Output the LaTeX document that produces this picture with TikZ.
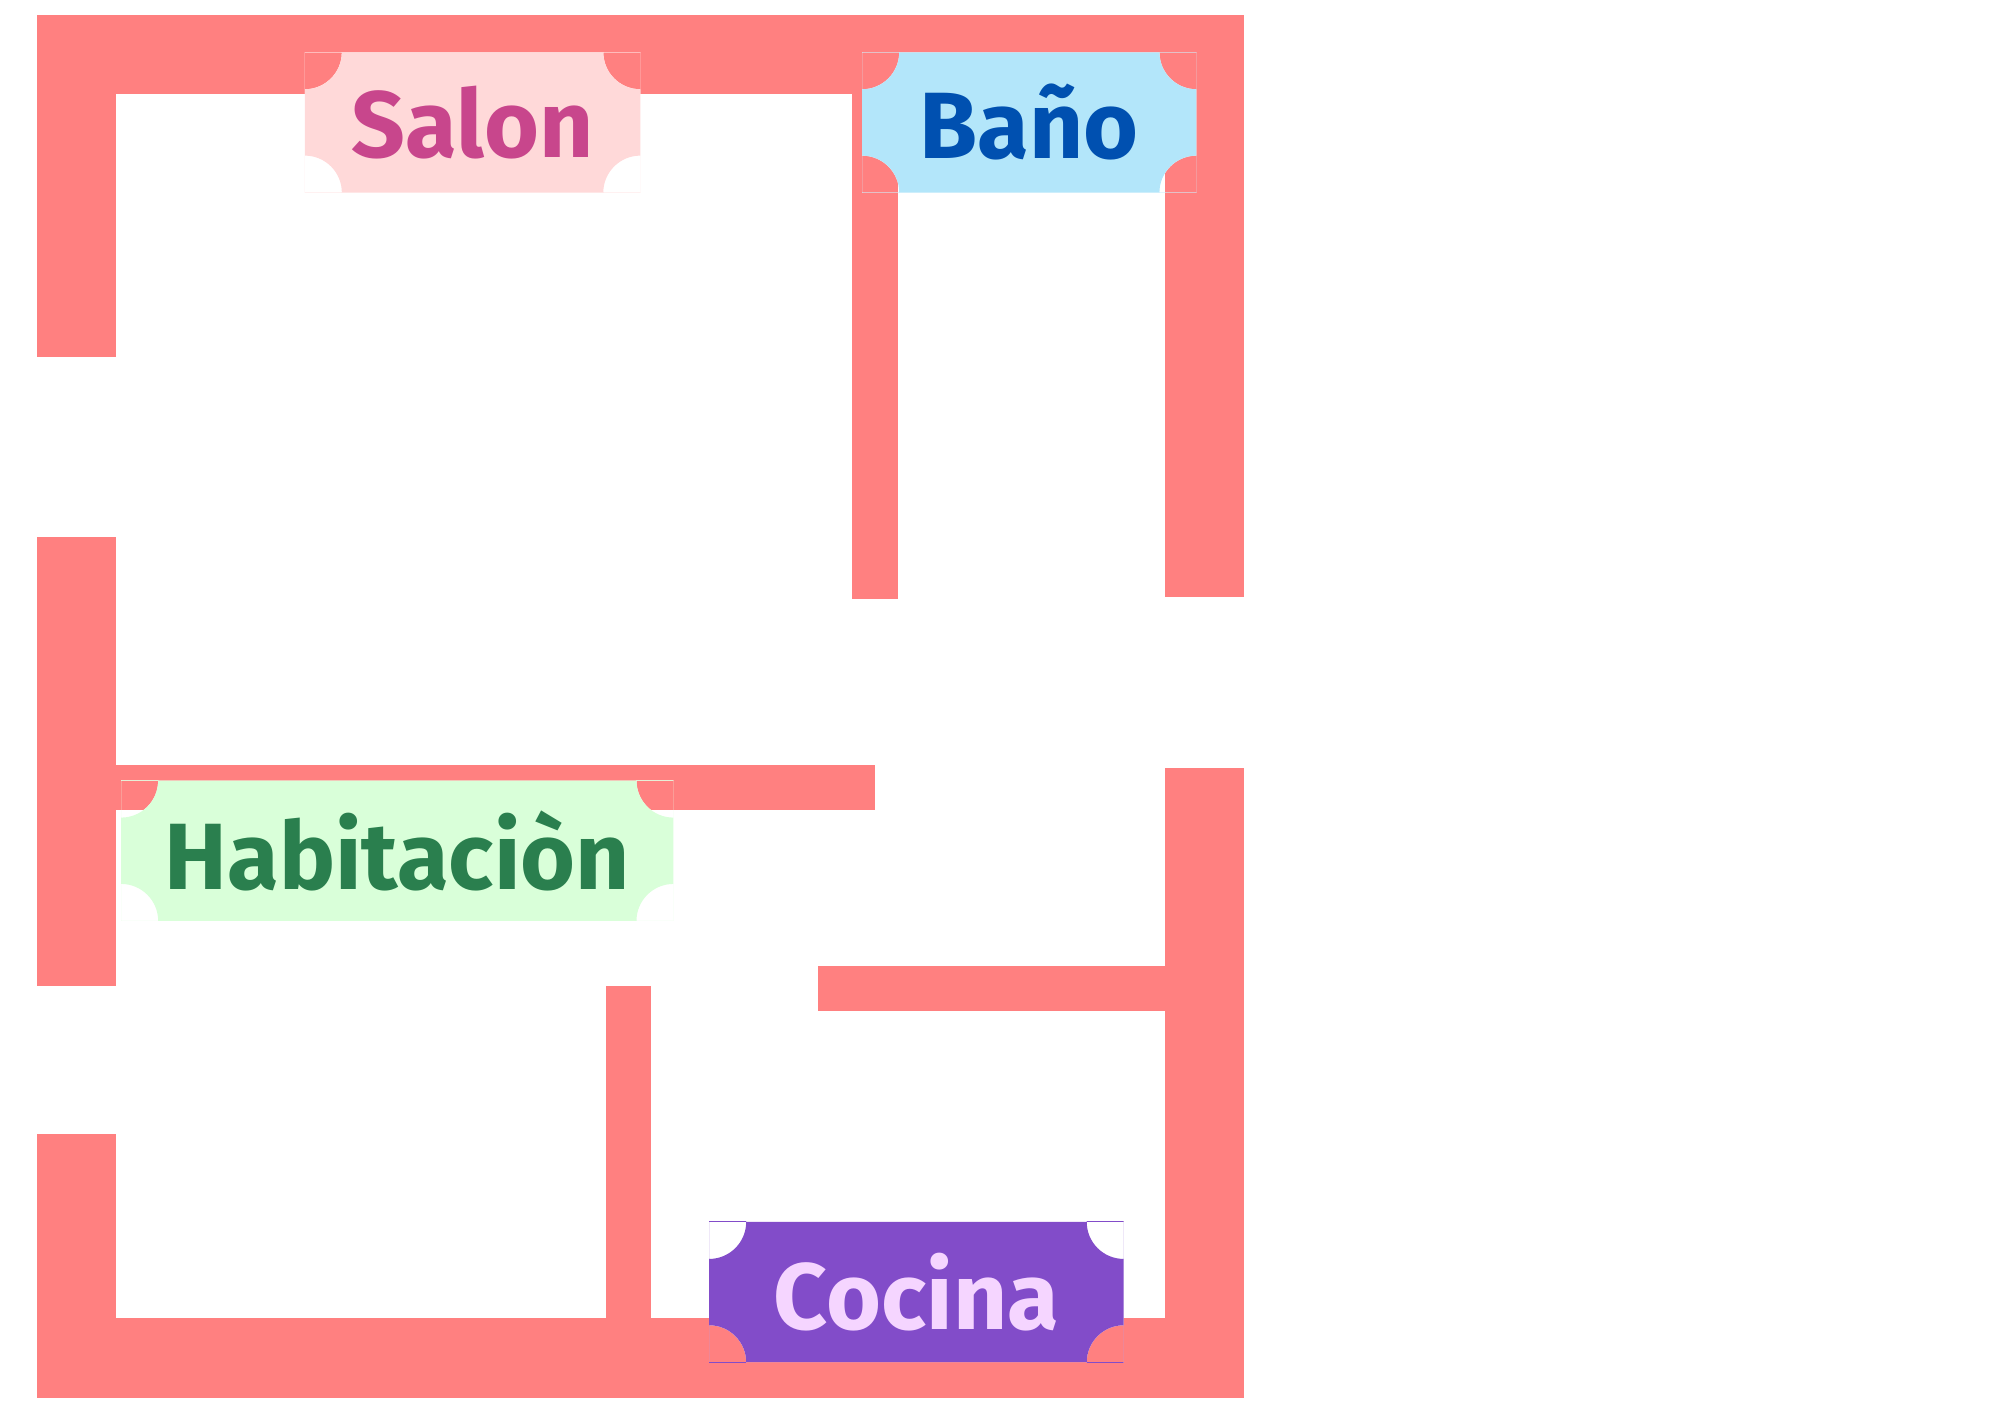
\documentclass[tikz,border=0pt]{standalone}
\usepackage{fontspec}
\setmainfont{Fira Sans}
\definecolor{wall}{HTML}{FF8080}
\newcommand{\ticket}[6]{% x1,y1,x2,y2,fill,name
 \begin{scope}
 \clip (#1,#2) rectangle (#3,#4);
 \fill[#5,even odd rule] (#1,#2) rectangle (#3,#4)
  (#1,#2) circle[radius=29] (#3,#2) circle[radius=29]
  (#1,#4) circle[radius=29] (#3,#4) circle[radius=29];
 \end{scope}
 \coordinate (#6) at ({(#1+#3)/2},{(#2+#4)/2});
}
\tikzset{room/.style={font=\fontsize{21}{21}\selectfont\bfseries}}
\begin{document}
\begin{tikzpicture}[x=0.01cm,y=-0.01cm]
\useasboundingbox (0,0) rectangle (1568,1109);
% walls
\fill[wall] (29,12) rectangle (975,74);
\fill[wall] (29,12) rectangle (91,280);
\fill[wall] (913,12) rectangle (975,468);
\fill[wall] (668,74) rectangle (704,470);
\fill[wall] (29,421) rectangle (91,773);
\fill[wall] (91,600) rectangle (686,635);
\fill[wall] (29,889) rectangle (91,1096);
\fill[wall] (29,1033) rectangle (975,1096);
\fill[wall] (913,602) rectangle (975,1096);
\fill[wall] (641,757) rectangle (913,793);
\fill[wall] (475,773) rectangle (510,1033);
% labels
\ticket{239}{41}{502}{151}{white!100!white}{s0}
\ticket{239}{41}{502}{151}{pink!60!white}{s}
\ticket{676}{41}{938}{151}{white}{b0}
\ticket{676}{41}{938}{151}{cyan!30!white}{b}
\ticket{95}{612}{528}{722}{white}{h0}
\ticket{95}{612}{528}{722}{green!15!white}{h}
\ticket{556}{958}{881}{1068}{white}{c0}
\ticket{556}{958}{881}{1068}{violet!60!blue!70!white}{c}
\node[room,text={rgb,255:red,200;green,70;blue,140}] (salon) at (s) {Salon};
\node[room,text={rgb,255:red,0;green,80;blue,176}] (bano) at (b) {Baño};
\node[room,text={rgb,255:red,42;green,127;blue,78}] (habitacion) at (h) {Habitaciòn};
\node[room,text={rgb,255:red,245;green,213;blue,255}] (cocina) at (c) {Cocina};
\end{tikzpicture}
\end{document}
